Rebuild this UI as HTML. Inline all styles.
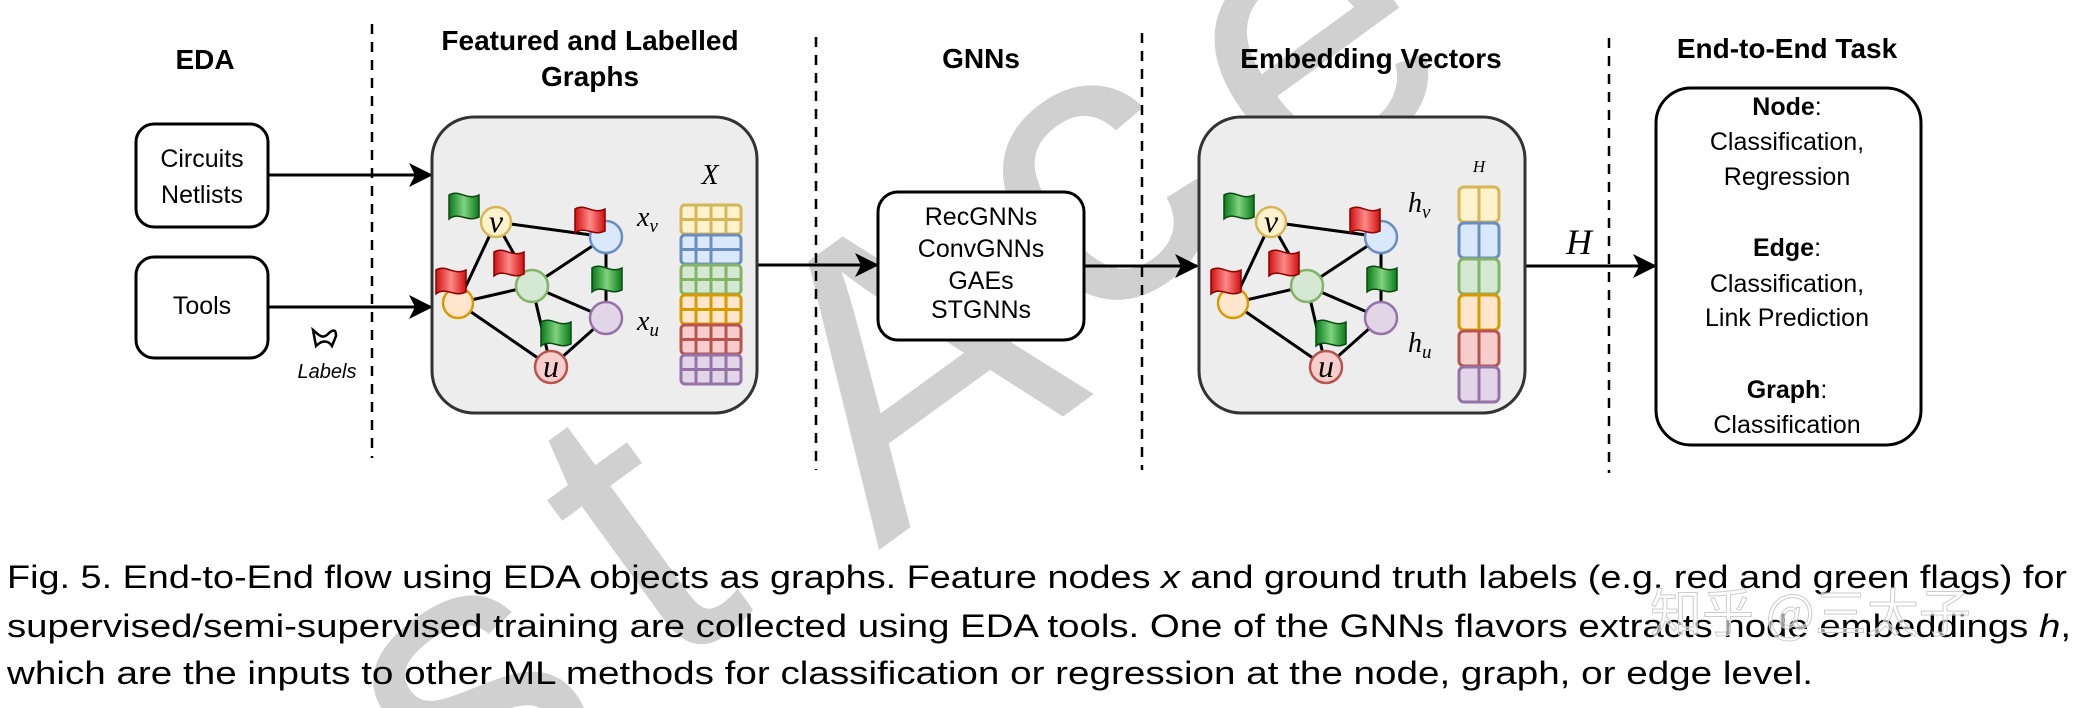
<!DOCTYPE html>
<html><head><meta charset="utf-8"><style>
html,body{margin:0;padding:0;background:#fff;width:2098px;height:708px;overflow:hidden}
svg{display:block;overflow:hidden}
.h{font-family:"Liberation Sans",sans-serif;font-weight:bold;font-size:28px;text-anchor:middle}
.t{font-family:"Liberation Sans",sans-serif;font-size:25px;text-anchor:middle}
.m{font-family:"Liberation Serif",serif;font-style:italic}
.cap{font-family:"Liberation Sans",sans-serif;font-size:32px}
.wm{font-family:"Liberation Sans",sans-serif;font-size:400px;fill:#d0d0d0;text-anchor:middle;dominant-baseline:central}
</style></head><body>
<svg width="2098" height="708" viewBox="0 0 2098 708" xmlns="http://www.w3.org/2000/svg">
<defs>
<linearGradient id="gg" x1="0" y1="0" x2="1" y2="0"><stop offset="0" stop-color="#0a7a1a"/><stop offset="0.5" stop-color="#7fd47f"/><stop offset="1" stop-color="#0a7a1a"/></linearGradient>
<linearGradient id="rg" x1="0" y1="0" x2="1" y2="0"><stop offset="0" stop-color="#d01010"/><stop offset="0.5" stop-color="#ff8a8a"/><stop offset="1" stop-color="#d01010"/></linearGradient>
<g id="gf"><path d="M0,2 C10,-4 18,8 30,2 L30,24 C18,30 10,18 0,26 Z" fill="url(#gg)" stroke="#0a4a10" stroke-width="1.5"/></g>
<g id="rf"><path d="M0,2 C10,-4 18,8 30,2 L30,24 C18,30 10,18 0,26 Z" fill="url(#rg)" stroke="#8a0000" stroke-width="1.5"/></g>
<marker id="ar" markerWidth="24" markerHeight="24" refX="22" refY="12" orient="auto" markerUnits="userSpaceOnUse" viewBox="0 0 24 24"><path d="M0,0 L24,12 L0,24 L6,12 Z" fill="#000"/></marker>
</defs>
<!-- watermark -->
<g>
<text class="wm" transform="translate(460,680) rotate(-36)">s</text>
<text class="wm" transform="translate(630,530) rotate(-36)">t</text>
<text class="wm" transform="translate(905,360) rotate(-36)">A</text>
<text class="wm" transform="translate(1080,170) rotate(-36)">c</text>
<text class="wm" transform="translate(1300,30) rotate(-36)">e</text>
</g>
<!-- dashed lines -->
<g stroke="#000" stroke-width="2.5" stroke-dasharray="10,8">
<line x1="372" y1="24" x2="372" y2="458"/>
<line x1="816" y1="37" x2="816" y2="470"/>
<line x1="1142" y1="33" x2="1142" y2="470"/>
<line x1="1609" y1="38" x2="1609" y2="473"/>
</g>
<!-- headers -->
<text class="h" x="205" y="69">EDA</text>
<text class="h" x="590" y="50">Featured and Labelled</text>
<text class="h" x="590" y="86">Graphs</text>
<text class="h" x="981" y="68">GNNs</text>
<text class="h" x="1371" y="68">Embedding Vectors</text>
<text class="h" x="1787" y="58">End-to-End Task</text>
<!-- EDA boxes -->
<rect x="136" y="124" width="132" height="103" rx="18" fill="#fff" stroke="#000" stroke-width="3"/>
<text class="t" x="202" y="167">Circuits</text>
<text class="t" x="202" y="203">Netlists</text>
<rect x="136" y="257" width="132" height="101" rx="18" fill="#fff" stroke="#000" stroke-width="3"/>
<text class="t" x="202" y="314">Tools</text>
<path d="M313,330 C318,334 322,340 328,334 C332,330 336,328 336,336 L332,346 C328,340 322,340 316,346 Z" fill="none" stroke="#000" stroke-width="2.5"/>
<text x="327" y="378" font-family="Liberation Sans,sans-serif" font-style="italic" font-size="20" text-anchor="middle">Labels</text>
<g stroke="#000" stroke-width="3" fill="none" marker-end="url(#ar)">
<line x1="268" y1="175" x2="431" y2="175"/>
<line x1="268" y1="307" x2="431" y2="307"/>
<line x1="757" y1="265" x2="877" y2="265"/>
<line x1="1084" y1="266" x2="1197" y2="266"/>
<line x1="1525" y1="266" x2="1655" y2="266"/>
</g>
<!-- graph box 1 -->
<rect x="432" y="117" width="325" height="296" rx="42" fill="#ededed" stroke="#333" stroke-width="3"/>
<g id="graph">
<g stroke="#000" stroke-width="3">
<line x1="496" y1="222" x2="606" y2="237"/><line x1="496" y1="222" x2="458" y2="303"/><line x1="496" y1="222" x2="532" y2="286"/>
<line x1="458" y1="303" x2="532" y2="286"/><line x1="458" y1="303" x2="551" y2="367"/><line x1="532" y1="286" x2="606" y2="237"/>
<line x1="532" y1="286" x2="606" y2="318"/><line x1="532" y1="286" x2="551" y2="367"/><line x1="606" y1="237" x2="606" y2="318"/>
<line x1="606" y1="318" x2="551" y2="367"/>
</g>
<g stroke-width="2.5">
<circle cx="606" cy="237" r="16" fill="#dae8fc" stroke="#6c8ebf"/>
<circle cx="532" cy="286" r="16" fill="#d5e8d4" stroke="#82b366"/>
<circle cx="458" cy="303" r="15" fill="#ffe6cc" stroke="#d79b00"/>
<circle cx="606" cy="318" r="16" fill="#e1d5e7" stroke="#9673a6"/>
</g>
<use href="#gf" x="449" y="193"/>
<use href="#rf" x="575" y="207"/>
<use href="#rf" x="494" y="250"/>
<use href="#rf" x="436" y="268"/>
<use href="#gf" x="592" y="266"/>
<use href="#gf" x="541" y="320"/>
<circle cx="496" cy="222" r="15" fill="#fff2cc" stroke="#d6b656" stroke-width="2.5"/>
<circle cx="551" cy="367" r="16" fill="#f8cecc" stroke="#b85450" stroke-width="2.5"/>
<text class="m" x="496" y="232" font-size="32" text-anchor="middle">v</text>
<text class="m" x="551" y="377" font-size="32" text-anchor="middle">u</text>
</g>
<text class="m" x="710" y="184" font-size="28" text-anchor="middle">X</text>
<text class="m" x="637" y="226" font-size="28">x<tspan font-size="19" dy="6">v</tspan></text>
<text class="m" x="637" y="330" font-size="28">x<tspan font-size="19" dy="6">u</tspan></text>
<g stroke-width="3">
<g fill="#fff2cc" stroke="#d6b656"><rect x="681" y="205" width="60" height="29" rx="4"/><path d="M696,205V234M711,205V234M726,205V234M681,219.5H741"/></g>
<g fill="#dae8fc" stroke="#6c8ebf"><rect x="681" y="235" width="60" height="29" rx="4"/><path d="M696,235V264M711,235V264M681,249.5H741"/></g>
<g fill="#d5e8d4" stroke="#82b366"><rect x="681" y="265" width="60" height="29" rx="4"/><path d="M696,265V294M711,265V294M726,265V294M681,279.5H741"/></g>
<g fill="#ffe6cc" stroke="#d79b00"><rect x="681" y="295" width="60" height="29" rx="4"/><path d="M696,295V324M711,295V324M726,295V324M681,309.5H741"/></g>
<g fill="#f8cecc" stroke="#b85450"><rect x="681" y="325" width="60" height="29" rx="4"/><path d="M696,325V354M711,325V354M726,325V354M681,339.5H741"/></g>
<g fill="#e1d5e7" stroke="#9673a6"><rect x="681" y="355" width="60" height="29" rx="4"/><path d="M696,355V384M711,355V384M726,355V384M681,369.5H741"/></g>
</g>
<!-- GNN box -->
<rect x="878" y="192" width="206" height="148" rx="20" fill="#fff" stroke="#000" stroke-width="3"/>
<text class="t" x="981" y="225" font-size="23">RecGNNs</text>
<text class="t" x="981" y="257" font-size="23">ConvGNNs</text>
<text class="t" x="981" y="289" font-size="23">GAEs</text>
<text class="t" x="981" y="318" font-size="23">STGNNs</text>
<!-- Embedding box -->
<rect x="1199" y="117" width="326" height="296" rx="42" fill="#ededed" stroke="#333" stroke-width="3"/>
<use href="#graph" x="775" y="0"/>
<text class="m" x="1479" y="172" font-size="17" text-anchor="middle">H</text>
<text class="m" x="1408" y="212" font-size="28">h<tspan font-size="19" dy="6">v</tspan></text>
<text class="m" x="1408" y="352" font-size="28">h<tspan font-size="19" dy="6">u</tspan></text>
<g stroke-width="3">
<g fill="#fff2cc" stroke="#d6b656"><rect x="1459" y="187" width="40" height="35" rx="5"/><path d="M1479,187V222"/></g>
<g fill="#dae8fc" stroke="#6c8ebf"><rect x="1459" y="223" width="40" height="35" rx="5"/><path d="M1479,223V258"/></g>
<g fill="#d5e8d4" stroke="#82b366"><rect x="1459" y="259" width="40" height="35" rx="5"/><path d="M1479,259V294"/></g>
<g fill="#ffe6cc" stroke="#d79b00"><rect x="1459" y="295" width="40" height="35" rx="5"/><path d="M1479,295V330"/></g>
<g fill="#f8cecc" stroke="#b85450"><rect x="1459" y="331" width="40" height="35" rx="5"/><path d="M1479,331V366"/></g>
<g fill="#e1d5e7" stroke="#9673a6"><rect x="1459" y="367" width="40" height="35" rx="5"/><path d="M1479,367V402"/></g>
</g>
<text class="m" x="1579" y="254" font-size="36" text-anchor="middle">H</text>
<!-- Task box -->
<rect x="1656" y="88" width="265" height="357" rx="35" fill="#fff" stroke="#000" stroke-width="3"/>
<text class="t" x="1787" y="115"><tspan font-weight="bold">Node</tspan>:</text>
<text class="t" x="1787" y="150">Classification,</text>
<text class="t" x="1787" y="185">Regression</text>
<text class="t" x="1787" y="256"><tspan font-weight="bold">Edge</tspan>:</text>
<text class="t" x="1787" y="292">Classification,</text>
<text class="t" x="1787" y="326">Link Prediction</text>
<text class="t" x="1787" y="398"><tspan font-weight="bold">Graph</tspan>:</text>
<text class="t" x="1787" y="433">Classification</text>
<!-- caption -->
<text class="cap" x="7" y="588" textLength="2060" lengthAdjust="spacingAndGlyphs">Fig. 5.  End-to-End flow using EDA objects as graphs. Feature nodes <tspan font-style="italic">x</tspan> and ground truth labels (e.g. red and green flags) for</text>
<text class="cap" x="7" y="637" textLength="2064" lengthAdjust="spacingAndGlyphs">supervised/semi-supervised training are collected using EDA tools. One of the GNNs flavors extracts node embeddings <tspan font-style="italic">h</tspan>,</text>
<text class="cap" x="7" y="684" textLength="1806" lengthAdjust="spacingAndGlyphs">which are the inputs to other ML methods for classification or regression at the node, graph, or edge level.</text>
<text x="1650" y="632" font-family="Noto Sans CJK SC,sans-serif" font-size="52" fill="#ffffff" fill-opacity="0.6" stroke="#cccccc" stroke-width="1">知乎 @三太子</text>
</svg>
</body></html>
